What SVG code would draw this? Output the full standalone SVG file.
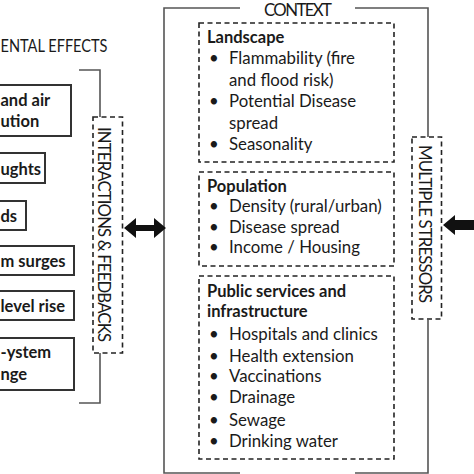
<svg xmlns="http://www.w3.org/2000/svg" width="474" height="474" viewBox="0 0 474 474">
<style>
text{font-family:Lato,"Open Sans","Liberation Sans",sans-serif;fill:#1a1a1a;font-size:16.8px}
.b{font-weight:bold;font-size:16.5px}
.box{fill:#fff;stroke:#333;stroke-width:2}
.dash{fill:none;stroke:#222;stroke-width:1.6;stroke-dasharray:5,3.5}
.line{fill:none;stroke:#555;stroke-width:1.6}
.arrow{fill:#111}
</style>
<rect width="474" height="474" fill="#fff"/>
<text x="0.5" y="52" textLength="107" lengthAdjust="spacingAndGlyphs">ENTAL EFFECTS</text>
<g id="effect-pollution"><rect class="box" x="-10" y="85" width="81" height="51"/><text class="b" x="0.5" y="106" font-size="17.5">and air</text><text class="b" x="0.5" y="127">ution</text></g>
<g id="effect-droughts"><rect class="box" x="-10" y="153" width="55" height="30"/><text class="b" x="0.5" y="175">ughts</text></g>
<g id="effect-floods"><rect class="box" x="-10" y="201" width="36" height="29"/><text class="b" x="0.5" y="222">ds</text></g>
<g id="effect-storm"><rect class="box" x="-10" y="246" width="84" height="29"/><text class="b" x="0.5" y="267">m surges</text></g>
<g id="effect-sealevel"><rect class="box" x="-10" y="291" width="84" height="29"/><text class="b" x="0.5" y="312">level rise</text></g>
<g id="effect-ecosystem"><rect class="box" x="-10" y="338" width="84" height="52"/><text class="b" x="0.5" y="358">-ystem</text><text class="b" x="0.5" y="380">nge</text></g>
<g id="interactions"><rect class="dash" x="93" y="117" width="29.5" height="236"/><text transform="translate(98,234.5) rotate(90)" text-anchor="middle" textLength="215">INTERACTIONS &amp; FEEDBACKS</text></g>
<g id="context">
<text x="264" y="16" font-size="14.5" textLength="68">CONTEXT</text>
<g id="landscape"><rect class="dash" x="199" y="23" width="195" height="139"/>
<text class="b" x="207" y="43">Landscape</text>
<text x="209" y="64">•</text><text x="229" y="64">Flammability (fire</text>
<text x="229" y="86">and flood risk)</text>
<text x="209" y="107">•</text><text x="229" y="107">Potential Disease</text>
<text x="229" y="129">spread</text>
<text x="209" y="150">•</text><text x="229" y="150">Seasonality</text></g>
<g id="population"><rect class="dash" x="199" y="172" width="195" height="94"/>
<text class="b" x="207" y="192">Population</text>
<text x="209" y="212">•</text><text x="229" y="212">Density (rural/urban)</text>
<text x="209" y="233">•</text><text x="229" y="233">Disease spread</text>
<text x="209" y="253">•</text><text x="229" y="253">Income / Housing</text></g>
<g id="public"><rect class="dash" x="199" y="276" width="195" height="183"/>
<text class="b" x="207" y="297">Public services and</text>
<text class="b" x="207" y="317">infrastructure</text>
<text x="209" y="340">•</text><text x="229" y="340">Hospitals and clinics</text>
<text x="209" y="362">•</text><text x="229" y="362">Health extension</text>
<text x="209" y="382">•</text><text x="229" y="382">Vaccinations</text>
<text x="209" y="403">•</text><text x="229" y="403">Drainage</text>
<text x="209" y="426">•</text><text x="229" y="426">Sewage</text>
<text x="209" y="447">•</text><text x="229" y="447">Drinking water</text></g>
</g>
<g id="stressors"><rect class="dash" x="412" y="137" width="29.5" height="182"/><text transform="translate(418.5,224) rotate(90)" text-anchor="middle" textLength="158">MULTIPLE STRESSORS</text></g>
<g id="connectors">
<path class="line" d="M79,70 H100 V117 M100,353 V403 H79"/>
<path class="line" d="M240,8 H164 V473 H240 M355,8 H428 V137 M428,319 V473 H355"/>
<path class="arrow" d="M124,228 L136,218 V225 H154 V218 L166,228 L154,238 V231 H136 V238 Z"/>
<path class="arrow" d="M443,225 L455,215 V220 H474 V230 H455 V235 Z"/>
</g>
</svg>
